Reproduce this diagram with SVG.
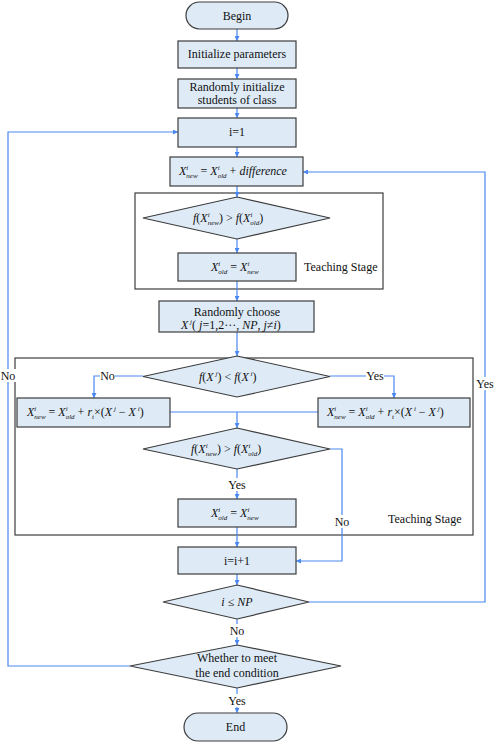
<svg xmlns="http://www.w3.org/2000/svg" width="495" height="743" viewBox="0 0 495 743" font-family="'Liberation Serif', 'DejaVu Serif', serif">
<defs>
<marker id="ah" viewBox="0 0 10 10" refX="10" refY="5" markerWidth="5" markerHeight="5" orient="auto" markerUnits="userSpaceOnUse">
<path d="M0,0 L10,5 L0,10 z" fill="#4a88f0"/>
</marker>
<style>
.n{fill:#deebf7;stroke:#3c3c3c;stroke-width:1.2}
.g{fill:none;stroke:#3c3c3c;stroke-width:1.2}
.c{fill:none;stroke:#4a88f0;stroke-width:1.2;marker-end:url(#ah)}
.l{fill:none;stroke:#4a88f0;stroke-width:1.2}
text{font-family:'Liberation Serif','DejaVu Serif',serif}
.t{font-size:12px;fill:#111}
.m{font-size:12px;font-style:italic;fill:#111}
.r{font-style:normal}
.s{font-size:7px}
.bg{fill:#ffffff}
</style>
</defs>
<rect width="495" height="743" fill="#ffffff"/>

<g id="stage1"><rect class="g" x="135" y="193" width="248" height="96"/><text class="t" x="304" y="271">Teaching Stage</text></g>
<g id="stage2"><rect class="g" x="15" y="358" width="458" height="177"/><text class="t" x="388" y="523">Teaching Stage</text></g>

<g id="connectors">
<path class="c" d="M237,29 V41"/>
<path class="c" d="M237,68 V79"/>
<path class="c" d="M237,108 V118"/>
<path class="c" d="M237,147 V157"/>
<path class="c" d="M237,186 V197"/>
<path class="c" d="M237,239 V253"/>
<path class="c" d="M237,281 V301"/>
<path class="c" d="M237,332 V356"/>
<path class="c" d="M143,376 H94 V398"/>
<path class="c" d="M330,376 H394 V398"/>
<path class="l" d="M170,412 H318"/>
<path class="c" d="M237,412 V428"/>
<path class="c" d="M237,469 V499"/>
<path class="c" d="M330,449 H342 V561 H296"/>
<path class="c" d="M237,527 V547"/>
<path class="c" d="M237,574 V585"/>
<path class="c" d="M237,619 V645"/>
<path class="c" d="M309,602 H485 V172 H303"/>
<path class="c" d="M130,666 H8 V132 H178"/>
<path class="c" d="M237,688 V713"/>
<rect class="bg" x="100" y="369" width="15" height="13"/><text class="t" x="107.5" y="380" text-anchor="middle">No</text>
<rect class="bg" x="366" y="369" width="18" height="13"/><text class="t" x="375" y="380" text-anchor="middle">Yes</text>
<rect class="bg" x="228" y="478" width="18" height="13"/><text class="t" x="237" y="489" text-anchor="middle">Yes</text>
<rect class="bg" x="334" y="515" width="16" height="13"/><text class="t" x="342" y="526" text-anchor="middle">No</text>
<rect class="bg" x="229" y="624" width="16" height="13"/><text class="t" x="237" y="635" text-anchor="middle">No</text>
<rect class="bg" x="228" y="694" width="18" height="13"/><text class="t" x="237" y="705" text-anchor="middle">Yes</text>
<rect class="bg" x="0" y="369" width="16" height="13"/><text class="t" x="8" y="380" text-anchor="middle">No</text>
<rect class="bg" x="476" y="377" width="18" height="13"/><text class="t" x="485" y="388" text-anchor="middle">Yes</text>
</g>

<g id="begin"><rect class="n" x="186" y="2" width="102" height="27" rx="13.5"/><text class="t" x="237" y="20" text-anchor="middle">Begin</text></g>
<g id="init"><rect class="n" x="178" y="41" width="118" height="27"/><text class="t" x="237" y="58" text-anchor="middle">Initialize parameters</text></g>
<g id="randinit"><rect class="n" x="178" y="79" width="118" height="29"/><text class="t" x="237" y="91" text-anchor="middle">Randomly initialize</text><text class="t" x="237" y="104" text-anchor="middle">students of class</text></g>
<g id="i1"><rect class="n" x="178" y="118" width="118" height="29"/><text class="t" x="237" y="136" text-anchor="middle">i=1</text></g>
<g id="xnew"><rect class="n" x="170" y="157" width="133" height="29"/>
<text class="m" x="179" y="175">X<tspan class="s" dy="-5">i</tspan><tspan class="s" dx="-2" dy="8">new</tspan><tspan class="r" dy="-3"> = </tspan>X<tspan class="s" dy="-5">i</tspan><tspan class="s" dx="-2" dy="8">old</tspan><tspan class="r" dy="-3"> + </tspan>difference</text></g>
<g id="d1"><polygon class="n" points="237,197 330,218 237,239 143,218"/>
<text class="m" x="193" y="222">f<tspan class="r">(</tspan>X<tspan class="s" dy="-5">i</tspan><tspan class="s" dx="-2" dy="8">new</tspan><tspan class="r" dy="-3">) &gt; </tspan>f<tspan class="r">(</tspan>X<tspan class="s" dy="-5">i</tspan><tspan class="s" dx="-2" dy="8">old</tspan><tspan class="r" dy="-3">)</tspan></text></g>
<g id="xold1"><rect class="n" x="178" y="253" width="118" height="28"/>
<text class="m" x="211" y="271">X<tspan class="s" dy="-5">i</tspan><tspan class="s" dx="-2" dy="8">old</tspan><tspan class="r" dy="-3"> = </tspan>X<tspan class="s" dy="-5">i</tspan><tspan class="s" dx="-2" dy="8">new</tspan></text></g>
<g id="choose"><rect class="n" x="159" y="301" width="155" height="31"/><text class="t" x="237" y="316" text-anchor="middle">Randomly choose</text>
<text class="m" x="181" y="329">X<tspan class="s" dy="-5"> j</tspan><tspan class="r" dy="5">(</tspan> j<tspan class="r">=1,2···,</tspan> NP<tspan class="r">,</tspan> j<tspan class="r">≠</tspan>i<tspan class="r">)</tspan></text></g>
<g id="d2"><polygon class="n" points="237,356 330,376.5 237,397 143,376.5"/>
<text class="m" x="199" y="381">f<tspan class="r">(</tspan>X<tspan class="s" dy="-5"> j</tspan><tspan class="r" dy="5">)  &lt;  </tspan>f<tspan class="r">(</tspan>X<tspan class="s" dy="-5"> i</tspan><tspan class="r" dy="5">)</tspan></text></g>
<g id="left"><rect class="n" x="17" y="398" width="153" height="29"/>
<text class="m" x="27" y="416">X<tspan class="s" dy="-5">i</tspan><tspan class="s" dx="-2" dy="8">new</tspan><tspan class="r" dy="-3"> = </tspan>X<tspan class="s" dy="-5">i</tspan><tspan class="s" dx="-2" dy="8">old</tspan><tspan class="r" dy="-3"> + </tspan>r<tspan class="s" dy="3">t</tspan><tspan class="r" dy="-3">×(</tspan>X<tspan class="s" dy="-5"> j</tspan><tspan class="r" dy="5"> − </tspan>X<tspan class="s" dy="-5"> i</tspan><tspan class="r" dy="5">)</tspan></text></g>
<g id="right"><rect class="n" x="318" y="398" width="152" height="29"/>
<text class="m" x="327" y="416">X<tspan class="s" dy="-5">i</tspan><tspan class="s" dx="-2" dy="8">new</tspan><tspan class="r" dy="-3"> = </tspan>X<tspan class="s" dy="-5">i</tspan><tspan class="s" dx="-2" dy="8">old</tspan><tspan class="r" dy="-3"> + </tspan>r<tspan class="s" dy="3">t</tspan><tspan class="r" dy="-3">×(</tspan>X<tspan class="s" dy="-5"> i</tspan><tspan class="r" dy="5"> − </tspan>X<tspan class="s" dy="-5"> j</tspan><tspan class="r" dy="5">)</tspan></text></g>
<g id="d3"><polygon class="n" points="237,428 330,449 237,469 143,449"/>
<text class="m" x="191" y="453">f<tspan class="r">(</tspan>X<tspan class="s" dy="-5">i</tspan><tspan class="s" dx="-2" dy="8">new</tspan><tspan class="r" dy="-3">) &gt; </tspan>f<tspan class="r">(</tspan>X<tspan class="s" dy="-5">i</tspan><tspan class="s" dx="-2" dy="8">old</tspan><tspan class="r" dy="-3">)</tspan></text></g>
<g id="xold2"><rect class="n" x="178" y="499" width="118" height="28"/>
<text class="m" x="211" y="517">X<tspan class="s" dy="-5">i</tspan><tspan class="s" dx="-2" dy="8">old</tspan><tspan class="r" dy="-3"> = </tspan>X<tspan class="s" dy="-5">i</tspan><tspan class="s" dx="-2" dy="8">new</tspan></text></g>
<g id="inc"><rect class="n" x="178" y="547" width="118" height="27"/><text class="t" x="237" y="565" text-anchor="middle">i=i+1</text></g>
<g id="d4"><polygon class="n" points="237,585 309,602 237,619 163,602"/><text class="m" x="237" y="606" text-anchor="middle">i <tspan class="r">≤</tspan> NP</text></g>
<g id="d5"><polygon class="n" points="237,645 341,666 237,688 130,666"/><text class="t" x="237" y="662" text-anchor="middle">Whether to meet</text><text class="t" x="237" y="677" text-anchor="middle">the end condition</text></g>
<g id="end"><rect class="n" x="184" y="713" width="103" height="28" rx="14"/><text class="t" x="235.5" y="731" text-anchor="middle">End</text></g>
</svg>
